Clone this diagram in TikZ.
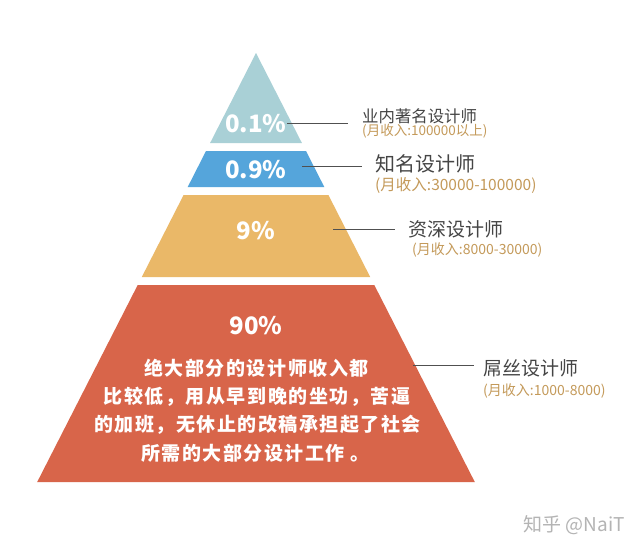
\documentclass[tikz,border=0pt]{standalone}
\usepackage{fontspec}
\setmainfont{Noto Sans CJK SC}
\newfontfamily\parafont[LetterSpace=8]{Noto Sans CJK SC}
\definecolor{tealc}{HTML}{A9D0D6}
\definecolor{bluec}{HTML}{55A5DB}
\definecolor{yellowc}{HTML}{EAB868}
\definecolor{redc}{HTML}{D8654A}
\definecolor{labgray}{HTML}{454545}
\definecolor{subtan}{HTML}{C49A5A}
\definecolor{linegray}{HTML}{505050}
\definecolor{wmgray}{HTML}{B4B4B4}
\begin{document}
\begin{tikzpicture}[x=1pt,y=-1pt,
  pct/.style={text=white,font=\bfseries\fontsize{24}{24}\selectfont,inner sep=0pt},
  para/.style={text=white,font=\parafont\bfseries\fontsize{19}{21}\selectfont,inner sep=0pt},
  lab/.style={text=labgray,anchor=west,inner sep=0pt},
  sub/.style={text=subtan,anchor=west,inner sep=0pt},
  conn/.style={draw=linegray,line width=1pt}]
\useasboundingbox[fill=white] (0,0) rectangle (640,555);
% bands
\fill[tealc] (256,53) -- (301.9,143) -- (210.1,143) -- cycle;
\fill[bluec] (206,151) -- (306,151) -- (324.3,187) -- (187.7,187) -- cycle;
\fill[yellowc] (183.6,195) -- (328.4,195) -- (370.2,277) -- (141.8,277) -- cycle;
\fill[redc] (137.7,285) -- (374.3,285) -- (474.8,482) -- (37.2,482) -- cycle;
% percentages
\node[pct] (p1) at (256,124) {0.1\%};
\node[pct] (p2) at (256,169.5) {0.9\%};
\node[pct] (p3) at (256,231) {9\%};
\node[pct] (p4) at (256,326) {90\%};
% paragraph
\node[para] (t1) at (256.5,368) {绝大部分的设计师收入都};
\node[para] (t2) at (257,397) {比较低，用从早到晚的坐功，苦逼};
\node[para] (t3) at (257.5,425) {的加班，无休止的改稿承担起了社会};
\node[para] (t4) at (255.5,453) {所需的大部分设计工作 。};
% labels
\node[lab,font=\fontsize{16.4}{18}\selectfont] (l1) at (362,116) {业内著名设计师};
\node[sub,font=\fontsize{13.5}{15}\selectfont] (s1) at (362,131.5) {(月收入:100000以上)};
\node[lab,font=\fontsize{20}{22}\selectfont] (l2) at (375,163.5) {知名设计师};
\node[sub,font=\fontsize{15.5}{17}\selectfont] (s2) at (375,185.5) {(月收入:30000-100000)};
\node[lab,font=\fontsize{19}{21}\selectfont] (l3) at (408,229) {资深设计师};
\node[sub,font=\fontsize{14}{16}\selectfont] (s3) at (412,249.5) {(月收入:8000-30000)};
\node[lab,font=\fontsize{19}{21}\selectfont] (l4) at (483,368.5) {屌丝设计师};
\node[sub,font=\fontsize{14}{16}\selectfont] (s4) at (483,391) {(月收入:1000-8000)};
% connectors
\coordinate (c1a) at (287,123); \coordinate (c1b) at (348,123);
\coordinate (c2a) at (302,166); \coordinate (c2b) at (362,166);
\coordinate (c3a) at (333,229); \coordinate (c3b) at (395,229);
\coordinate (c4a) at (413,365); \coordinate (c4b) at (474,365);
\draw[conn] (c1a) -- (c1b);
\draw[conn] (c2a) -- (c2b);
\draw[conn] (c3a) -- (c3b);
\draw[conn] (c4a) -- (c4b);
% watermark
\node[text=wmgray,anchor=east,inner sep=0pt,font=\fontsize{19}{21}\selectfont] (wm) at (625,525) {知乎 @NaiT};
\end{tikzpicture}
\end{document}
